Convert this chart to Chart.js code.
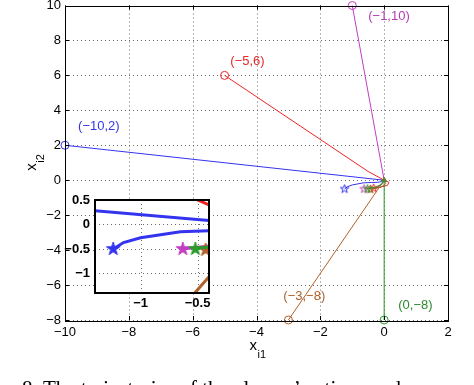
<!DOCTYPE html>
<html><head><meta charset="utf-8">
<script src="https://cdn.jsdelivr.net/npm/chart.js@4.4.1/dist/chart.umd.min.js"></script>
<style>
html,body{margin:0;padding:0;background:#fff;}
#wrap{position:relative;width:474px;height:385px;overflow:hidden;background:#fff;}
#main{position:absolute;left:0;top:0;}
#inset{position:absolute;left:55px;top:190px;}
</style></head><body>
<div id="wrap"><canvas id="main" width="474" height="385"></canvas><canvas id="inset" width="165" height="125"></canvas></div>
<script>
// ---------------- DATA ----------------
const xTickValues = [-10, -8, -6, -4, -2, 0, 2];
const yTickValues = [-8, -6, -4, -2, 0, 2, 4, 6, 8, 10];
const insetXTickValues = [-1, -0.5];
const insetYTickValues = [-1, -0.5, 0, 0.5];

const greenX = [0, 0, -0.1, -0.3, -0.52];
const greenY = [-8, 0, -0.25, -0.42, -0.5];
const brownX = [-3, 0, 0.05, -0.1, -0.43];
const brownY = [-8, 0, -0.2, -0.4, -0.52];
const redX = [-5, -0.5, 0, 0.15, 0.1, -0.15, -0.33];
const redY = [6, 0.5, 0, -0.12, -0.3, -0.4, -0.46];
const magentaX = [-1, 0, -0.05, -0.2, -0.4, -0.63];
const magentaY = [10, 0, -0.2, -0.38, -0.44, -0.5];
const blueX = [-10, 0, -0.08, -0.2, -0.4, -0.65, -1.0, -1.15, -1.24];
const blueY = [2, 0, -0.08, -0.12, -0.13, -0.15, -0.27, -0.37, -0.5];

const startLabels = ['(0,\u22128)', '(\u22123,\u22128)', '(\u22125,6)', '(\u22121,10)', '(\u221210,2)'];
const labelAnchorX = [0.44, -3.16, -4.82, -0.5, -9.59];
const labelAnchorY = [-7.26, -6.74, 6.69, 9.26, 2.97];

const caption = '8. The trajectories of the players\u2019 actions and';
// --------------------------------------

const colors = ['#2a9a2a', '#b0602a', '#ee2222', '#c23ec2', '#3333f0'];
const labelColors = ['#2a8a2a', '#b0602a', '#e82828', '#b53ab5', '#3535e8'];
const seriesX = [greenX, brownX, redX, magentaX, blueX];
const seriesY = [greenY, brownY, redY, magentaY, blueY];
// index of the point at the origin (triangle marker)
const originIdx = seriesX.map((xs, k) => xs.findIndex((v, i) => v === 0 && seriesY[k][i] === 0));

function makeStar(R, color, filled, lw) {
  const c = document.createElement('canvas');
  const s = Math.ceil(2 * R + 4);
  c.width = s; c.height = s;
  const g = c.getContext('2d');
  g.translate(s / 2, s / 2);
  g.beginPath();
  for (let i = 0; i < 10; i++) {
    const r = i % 2 === 0 ? R : R * 0.382;
    const a = -Math.PI / 2 + i * Math.PI / 5;
    const px = r * Math.cos(a), py = r * Math.sin(a);
    if (i === 0) g.moveTo(px, py); else g.lineTo(px, py);
  }
  g.closePath();
  if (filled) { g.fillStyle = color; g.fill(); }
  g.strokeStyle = color; g.lineWidth = lw; g.stroke();
  return c;
}
const openStars = colors.map(c => makeStar(4.5, c, false, 1));
const fullStars = colors.map(c => makeStar(7, c, true, 1));

const fmt = v => (v < 0 ? '\u2212' + String(Math.abs(v)) : String(v));
const FONT = "'Liberation Sans', Arial, Helvetica, sans-serif";

function dottedGrid(chart, xv, yv) {
  const ctx = chart.ctx, a = chart.chartArea;
  const xs = chart.scales.x, ys = chart.scales.y;
  ctx.save();
  ctx.strokeStyle = '#6a6a6a'; ctx.lineWidth = 1;
  ctx.setLineDash([1, 3]);
  ctx.beginPath();
  xv.forEach(v => {
    const px = Math.round(xs.getPixelForValue(v)) + 0.5;
    ctx.moveTo(px, a.top); ctx.lineTo(px, a.bottom);
  });
  yv.forEach(v => {
    const py = Math.round(ys.getPixelForValue(v)) + 0.5;
    ctx.moveTo(a.left, py); ctx.lineTo(a.right, py);
  });
  ctx.stroke();
  ctx.restore();
}

const mainPlugin = {
  id: 'mainExtras',
  beforeDatasetsDraw(chart) { dottedGrid(chart, xTickValues, yTickValues); },
  afterDraw(chart) {
    const ctx = chart.ctx, a = chart.chartArea;
    const xs = chart.scales.x, ys = chart.scales.y;
    ctx.save();
    ctx.strokeStyle = '#000'; ctx.lineWidth = 1;
    ctx.beginPath();
    xTickValues.forEach(v => {
      const px = Math.round(xs.getPixelForValue(v)) + 0.5;
      ctx.moveTo(px, a.bottom); ctx.lineTo(px, a.bottom - 4);
      ctx.moveTo(px, a.top); ctx.lineTo(px, a.top + 4);
    });
    yTickValues.forEach(v => {
      const py = Math.round(ys.getPixelForValue(v)) + 0.5;
      ctx.moveTo(a.left, py); ctx.lineTo(a.left + 4, py);
      ctx.moveTo(a.right, py); ctx.lineTo(a.right - 4, py);
    });
    ctx.stroke();
    ctx.strokeRect(Math.round(a.left) + 0.5, Math.round(a.top) + 0.5, Math.round(a.right - a.left), Math.round(a.bottom - a.top));
    ctx.font = '13px ' + FONT;
    ctx.textBaseline = 'middle'; ctx.textAlign = 'left';
    startLabels.forEach((t, i) => {
      ctx.fillStyle = labelColors[i];
      ctx.fillText(t, xs.getPixelForValue(labelAnchorX[i]), ys.getPixelForValue(labelAnchorY[i]) - 2);
    });
    ctx.fillStyle = '#000';
    ctx.textBaseline = 'alphabetic';
    const cx = (a.left + a.right) / 2;
    ctx.font = '15px ' + FONT;
    ctx.fillText('x', cx - 7, 350);
    ctx.font = '11px ' + FONT;
    ctx.fillText('i1', cx + 1, 358);
    ctx.save();
    ctx.translate(36, (a.top + a.bottom) / 2 + 8);
    ctx.rotate(-Math.PI / 2);
    ctx.font = '15px ' + FONT;
    ctx.fillText('x', 0, 0);
    ctx.font = '11px ' + FONT;
    ctx.fillText('i2', 8, 8);
    ctx.restore();
    ctx.font = "21px 'Liberation Serif', 'Times New Roman', serif";
    ctx.fillText(caption, 22, 395);
    ctx.restore();
  }
};

new Chart(document.getElementById('main'), {
  type: 'scatter',
  data: {
    datasets: seriesX.map((xs, k) => ({
      data: xs.map((v, i) => ({ x: v, y: seriesY[k][i] })),
      showLine: true,
      borderColor: colors[k],
      borderWidth: 1,
      backgroundColor: 'transparent',
      tension: 0,
      clip: 8,
      pointRadius: c => (c.dataIndex === 0 ? 4 : c.dataIndex === originIdx[k] ? 2.5 : c.dataIndex === xs.length - 1 ? 4.5 : 0),
      pointStyle: c => (c.dataIndex === 0 ? 'circle' : c.dataIndex === originIdx[k] ? 'triangle' : openStars[k]),
      pointBorderColor: colors[k],
      pointBackgroundColor: 'transparent',
      pointBorderWidth: 1
    }))
  },
  options: {
    responsive: false, animation: false, devicePixelRatio: 1,
    layout: { padding: { left: 0, top: 5, right: 26, bottom: 0 } },
    plugins: { legend: { display: false }, tooltip: { enabled: false } },
    scales: {
      x: {
        type: 'linear', min: -10, max: 2,
        afterFit: s => { s.height = 65; s.paddingLeft = 0; s.paddingRight = 0; },
        afterBuildTicks: s => { s.ticks = xTickValues.map(v => ({ value: v })); },
        ticks: { callback: fmt, color: '#000', font: { size: 13, family: FONT }, padding: 5, maxRotation: 0, autoSkip: false },
        grid: { display: false, drawTicks: false },
        border: { display: false }
      },
      y: {
        type: 'linear', min: -8, max: 10,
        afterFit: s => { s.width = 65; s.paddingTop = 0; s.paddingBottom = 0; },
        afterBuildTicks: s => { s.ticks = yTickValues.map(v => ({ value: v })); },
        ticks: { callback: fmt, color: '#000', font: { size: 13, family: FONT }, padding: 4, autoSkip: false },
        grid: { display: false, drawTicks: false },
        border: { display: false }
      }
    }
  },
  plugins: [mainPlugin]
});

const insetPlugin = {
  id: 'insetExtras',
  beforeDraw(chart) {
    const ctx = chart.ctx, a = chart.chartArea;
    ctx.save(); ctx.fillStyle = '#fff';
    ctx.fillRect(a.left, a.top, a.right - a.left, a.bottom - a.top);
    ctx.restore();
  },
  beforeDatasetsDraw(chart) { dottedGrid(chart, insetXTickValues, insetYTickValues); },
  afterDraw(chart) {
    const ctx = chart.ctx, a = chart.chartArea;
    ctx.save();
    ctx.strokeStyle = '#000'; ctx.lineWidth = 2;
    ctx.strokeRect(a.left, a.top, a.right - a.left, a.bottom - a.top);
    ctx.restore();
  }
};

new Chart(document.getElementById('inset'), {
  type: 'scatter',
  data: {
    datasets: seriesX.map((xs, k) => ({
      data: xs.map((v, i) => ({ x: v, y: seriesY[k][i] })),
      showLine: true,
      borderColor: colors[k],
      borderWidth: 3,
      backgroundColor: 'transparent',
      tension: 0,
      clip: 0,
      pointRadius: c => (c.dataIndex === xs.length - 1 ? 7 : 0),
      pointStyle: c => (c.dataIndex === xs.length - 1 ? fullStars[k] : 'circle'),
      pointBorderColor: colors[k],
      pointBackgroundColor: colors[k]
    }))
  },
  options: {
    responsive: false, animation: false, devicePixelRatio: 1,
    layout: { padding: { left: 0, top: 8, right: 11, bottom: 0 } },
    plugins: { legend: { display: false }, tooltip: { enabled: false } },
    scales: {
      x: {
        type: 'linear', min: -1.4, max: -0.4,
        afterFit: s => { s.height = 22; s.paddingLeft = 0; s.paddingRight = 0; },
        afterBuildTicks: s => { s.ticks = insetXTickValues.map(v => ({ value: v })); },
        ticks: { callback: fmt, color: '#000', font: { size: 13, family: FONT, weight: 'bold' }, padding: 3, maxRotation: 0, autoSkip: false },
        grid: { display: false, drawTicks: false },
        border: { display: false }
      },
      y: {
        type: 'linear', min: -1.4, max: 0.5,
        afterFit: s => { s.width = 40; s.paddingTop = 0; s.paddingBottom = 0; },
        afterBuildTicks: s => { s.ticks = insetYTickValues.map(v => ({ value: v })); },
        ticks: { callback: fmt, color: '#000', font: { size: 13, family: FONT, weight: 'bold' }, padding: 5, autoSkip: false },
        grid: { display: false, drawTicks: false },
        border: { display: false }
      }
    }
  },
  plugins: [insetPlugin]
});
</script>
</body></html>
